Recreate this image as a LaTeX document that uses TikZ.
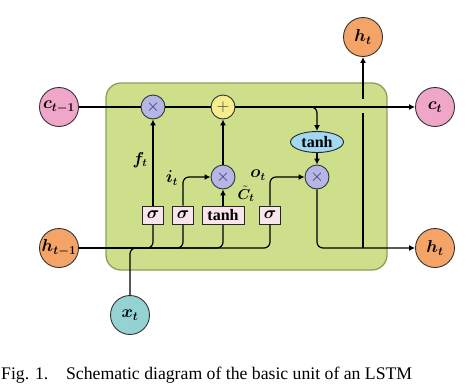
\documentclass[tikz,border=0pt]{standalone}
\usepackage{fontspec}
\setmainfont{Liberation Serif}
\usepackage{amsmath,bm}
\usetikzlibrary{arrows.meta,shapes.geometric}
\definecolor{cpink}{HTML}{EFA6C9}
\definecolor{horange}{HTML}{F4A467}
\definecolor{xteal}{HTML}{95D2D2}
\definecolor{opcol}{HTML}{B6B6E6}
\definecolor{plcol}{HTML}{F6EE8E}
\definecolor{tanhcol}{HTML}{A2D8F0}
\definecolor{boxgreen}{HTML}{CEDF8C}
\definecolor{boxedge}{HTML}{8E9E5A}
\definecolor{gatecol}{HTML}{F8E6EC}
\definecolor{symcol}{HTML}{303070}
\tikzset{
  io/.style={circle, draw=black!80, line width=0.9pt, minimum size=39pt, inner sep=0pt, font=\fontsize{17}{19}\selectfont},
  op/.style={circle, draw=black!80, line width=0.9pt, fill=opcol, minimum size=24pt, inner sep=0pt, text=symcol, font=\fontsize{17}{19}\selectfont},
  gate/.style={rectangle, draw=black!85, line width=0.9pt, fill=gatecol, minimum height=18pt, minimum width=21pt, inner sep=1pt, font=\fontsize{16}{18}\selectfont},
  ln/.style={line width=1.2pt, rounded corners=6pt},
  arr/.style={line width=1.2pt, rounded corners=6pt, -{Latex[length=6pt,width=6pt]}},
  lbl/.style={font=\fontsize{16}{18}\selectfont, inner sep=0pt}
}
\begin{document}
\begin{tikzpicture}[x=1pt,y=-1pt]
\useasboundingbox (0,0) rectangle (474,386);
\draw[fill=boxgreen, draw=boxedge, line width=1.3pt, rounded corners=15pt] (106,83) rectangle (387,270);
% nodes
\node[io, fill=cpink] (cprev) at (59,107) {$\bm{c_{t-1}}$};
\node[op] (mf) at (153,107) {$\times$};
\node[op, fill=plcol, text=black!80] (pl) at (223,107) {$+$};
\node[io, fill=cpink] (ct) at (435,107) {$\bm{c_t}$};
\node[io, fill=horange] (htop) at (363,37) {$\bm{h_t}$};
\node[io, fill=horange] (hprev) at (59,248) {$\bm{h_{t-1}}$};
\node[io, fill=horange] (hout) at (435,248) {$\bm{h_t}$};
\node[io, fill=xteal] (xt) at (130,315) {$\bm{x_t}$};
\node[ellipse, draw=black!85, line width=0.9pt, fill=tanhcol, minimum width=53pt, minimum height=21pt, inner sep=0pt, font=\fontsize{16}{18}\selectfont] (th) at (317,142) {$\mathbf{tanh}$};
\node[op] (mo) at (317,177) {$\times$};
\node[op] (mi) at (223,177) {$\times$};
\node[gate] (gf) at (153,215) {$\bm\sigma$};
\node[gate] (gi) at (183,215) {$\bm\sigma$};
\node[gate, minimum width=42pt] (gc) at (223,215) {$\mathbf{tanh}$};
\node[gate] (go) at (270,215) {$\bm\sigma$};
% coordinates
\coordinate (cb) at (303,107);
\coordinate (xj) at (146,248);
\coordinate (vb) at (363,248);
\coordinate (hopB) at (363,113);
\coordinate (hopT) at (363,99);
% cell line
\draw[ln] (cprev) -- (mf) -- (pl);
\draw[arr] (pl) -- (ct);
\draw[arr] (cb) -| (th);
\draw[arr] (th) -- (mo);
% hidden input
\draw[ln] (hprev) -| (gf);
\draw[ln] (hprev) -| (gi);
\draw[ln] (hprev) -| (gc);
\draw[ln] (hprev) -| (go);
\draw[ln] (xt) |- (xj);
% gates
\draw[arr] (gf) -- (mf);
\draw[arr] (gi) |- (mi);
\draw[arr] (gc) -- (mi);
\draw[arr] (mi) -- (pl);
\draw[arr] (go) |- (mo);
\draw[arr] (mo) |- (hout);
\draw[ln] (vb) -- (hopB);
\draw[arr] (hopT) -- (htop);
% labels
\node[lbl] (lf) at (140,160) {$\bm{f_t}$};
\node[lbl] (li) at (172,178) {$\bm{i_t}$};
\node[lbl, font=\fontsize{15}{17}\selectfont] (lc) at (246,194) {$\bm{\tilde{C}_t}$};
\node[lbl] (lo) at (258,175) {$\bm{o_t}$};
% caption
\node[anchor=west, inner sep=0pt, font=\fontsize{17.7}{20}\selectfont] (cap) at (1,375) {Fig. 1.\quad Schematic diagram of the basic unit of an LSTM};
\end{tikzpicture}
\end{document}
